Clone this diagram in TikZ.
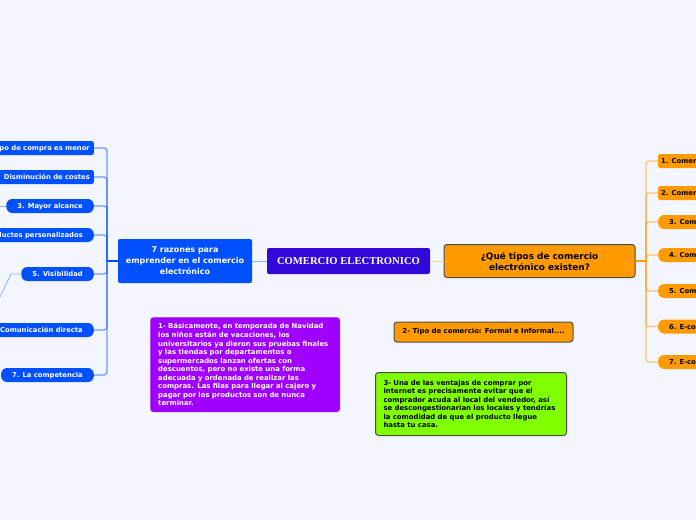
\documentclass[tikz,border=0pt]{standalone}
\usepackage{fontspec}
\setmainfont{DejaVu Sans}
\newfontfamily\rootfont{Liberation Serif}
\definecolor{fondo}{HTML}{F4F6FF}
\definecolor{azul}{HTML}{0050FF}
\definecolor{naranja}{HTML}{FF9A00}
\definecolor{morado}{HTML}{A000FF}
\definecolor{verde}{HTML}{80FF00}
\definecolor{raiz}{HTML}{3208D8}
\tikzset{
  hoja/.style={fill=azul,text=white,font=\fontsize{6.8}{8}\selectfont\bfseries,anchor=east,minimum height=14pt,inner ysep=0pt,text height=5pt,text depth=0pt},
  hojader/.style={fill=naranja,text=black,font=\fontsize{6.8}{8}\selectfont\bfseries,anchor=west,minimum height=14pt,inner ysep=0pt,text height=5pt,text depth=0pt},
  nota/.style={font=\fontsize{6.9}{8.55}\selectfont\bfseries,align=left,rounded corners=3pt,anchor=north west,inner xsep=8pt},
  linea/.style={line width=1.3pt,rounded corners=3pt,opacity=.55},
}
\begin{document}
\begin{tikzpicture}[x=1pt,y=-1pt]
\useasboundingbox[fill=fondo] (0,0) rectangle (696,520);
% centro
\node[fill=raiz,text=white,font=\rootfont\fontsize{10.6}{11}\selectfont\bfseries,rounded corners=2pt,minimum width=163pt,minimum height=26pt,inner sep=0pt] (raiz) at (348.5,261) {COMERCIO ELECTRONICO};
\node[fill=azul,text=white,font=\fontsize{8}{11}\selectfont\bfseries,align=center,rounded corners=2pt,minimum width=134pt,minimum height=44pt,inner sep=0pt] (razones) at (185,261) {7 razones para\\emprender en el comercio\\electrónico};
\node[fill=naranja,draw=black!70,line width=1pt,font=\fontsize{8.9}{11}\selectfont\bfseries,align=center,rounded corners=3pt,minimum width=191pt,minimum height=33pt,inner sep=0pt] (tipos) at (539.5,261) {¿Qué tipos de comercio\\electrónico existen?};
% hojas izquierda
\node[hoja,rounded corners=2pt,inner xsep=4pt] (a1) at (94,148) {1. Tiempo de compra es menor};
\node[hoja,rounded corners=2pt,inner xsep=4pt] (a2) at (94,177) {2. Disminución de costes};
\node[hoja,rounded corners=6pt,inner xsep=11pt] (a3) at (94,206) {3. Mayor alcance};
\node[hoja,rounded corners=6pt,inner xsep=11pt] (a4) at (94,235) {4. Productos personalizados};
\node[hoja,rounded corners=6pt,inner xsep=11pt] (a5) at (94,274) {5. Visibilidad};
\node[hoja,rounded corners=6pt,inner xsep=11pt] (a6) at (94,330) {6. Comunicación directa};
\node[hoja,rounded corners=6pt,inner xsep=11pt] (a7) at (94,375) {7. La competencia};
% hojas derecha
\node[hojader,rounded corners=2pt,inner xsep=3pt] (b1) at (658,161) {1. Comercio};
\node[hojader,rounded corners=2pt,inner xsep=3pt] (b2) at (658,193) {2. Comercio};
\node[hojader,rounded corners=6pt,inner xsep=11pt] (b3) at (658,222) {3. Comercio};
\node[hojader,rounded corners=6pt,inner xsep=11pt] (b4) at (658,255) {4. Comercio};
\node[hojader,rounded corners=6pt,inner xsep=11pt] (b5) at (658,291) {5. Comercio};
\node[hojader,rounded corners=6pt,inner xsep=11pt] (b6) at (658,326.5) {6. E-commerce};
\node[hojader,rounded corners=6pt,inner xsep=11pt] (b7) at (658,362) {7. E-commerce};
% notas
\node[nota,fill=morado,text=white,draw=black!15,text width=174pt,minimum height=95pt,inner ysep=6pt] (nota1) at (150,317) {1- Básicamente, en temporada de Navidad\\los niños están de vacaciones, los\\universitarios ya dieron sus pruebas finales\\y las tiendas por departamentos o\\supermercados lanzan ofertas con\\descuentos, pero no existe una forma\\adecuada y ordenada de realizar las\\compras. Las filas para llegar al cajero y\\pagar por los productos son de nunca\\terminar.};
\node[fill=naranja,draw=black!70,line width=1pt,font=\fontsize{6.9}{8.5}\selectfont\bfseries,rounded corners=3pt,minimum width=179pt,minimum height=20pt,inner sep=0pt] (nota2) at (483.5,332) {2- Tipo de comercio: Formal e Informal....};
\node[nota,fill=verde,text=black,draw=black!70,line width=1pt,text width=175pt,minimum height=63pt,inner ysep=6.5pt] (nota3) at (375,372) {3- Una de las ventajas de comprar por\\internet es precisamente evitar que el\\comprador acuda al local del vendedor, así\\se descongestionarían los locales y tendrías\\la comodidad de que el producto llegue\\hasta tu casa.};
% conectores
\coordinate (izq) at (107,261);
\coordinate (der) at (646,261);
\draw[azul!45,line width=1pt] (razones) -- (raiz);
\draw[naranja!45,line width=1pt] (raiz) -- (tipos);
\draw[azul,line width=1.5pt] (razones.west) -- (izq);
\draw[naranja,line width=1.3pt] (tipos.east) -- (der);
\foreach \n in {a1,a2,a3,a4,a5,a6,a7}
  \draw[linea,azul] (izq) -- (izq |- \n.east) -- (\n.east);
\foreach \n in {b1,b2,b3,b4,b5,b6,b7}
  \draw[linea,naranja] (der) -- (der |- \n.west) -- (\n.west);
% ramas cortadas
\coordinate (c3) at (0,206);
\coordinate (c5) at (11,274);
\coordinate (c5b) at (0,297);
\draw[azul!45,line width=.8pt] (a3.west) -- (c3);
\draw[azul!45,line width=.8pt] (a5.west) -- (c5) -- (c5b);
\end{tikzpicture}
\end{document}
